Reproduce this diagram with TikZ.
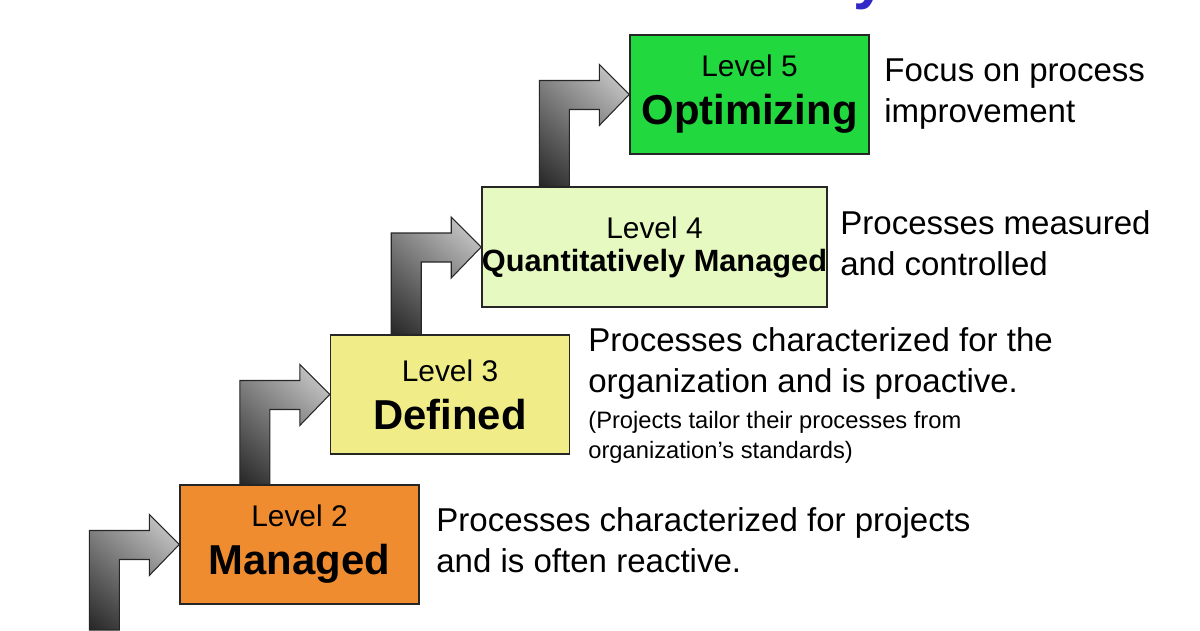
\documentclass[tikz,border=0pt]{standalone}
\usepackage{fontspec}
\setmainfont{Liberation Sans}
\usetikzlibrary{shadings,calc}
\begin{document}
\begin{tikzpicture}[x=0.02cm,y=-0.02cm,
 lvl/.style={draw=black!85,line width=0.8pt,minimum width=239*0.02cm,minimum height=119*0.02cm,inner sep=0pt,align=center},
 desc/.style={anchor=north west,align=left,inner sep=0pt,font=\fontsize{18.8}{23.5}\selectfont},
 small/.style={anchor=north west,align=left,inner sep=0pt,font=\fontsize{13.5}{17}\selectfont}]
\useasboundingbox (0,0) rectangle (1200,630);
\begin{scope}
\clip (0,0) rectangle (1200,630);
\node[anchor=base east,text={rgb,255:red,50;green,40;blue,200},font=\bfseries\fontsize{34}{34}\selectfont,inner sep=0pt] (title) at (887,-3) {Maturity};
\end{scope}
\node[lvl,fill={rgb,255:red,34;green,216;blue,63},minimum width=239*0.02cm] (l5) at (749.5,94.5) {\fontsize{17}{18}\selectfont Level 5\\[9pt]\fontsize{23.8}{26}\selectfont\bfseries Optimizing};
\node[lvl,fill={rgb,255:red,229;green,249;blue,192},minimum width=345*0.02cm,minimum height=120*0.02cm] (l4) at (654.5,247) {\fontsize{17}{18}\selectfont Level 4\\[5pt]\fontsize{17.5}{19}\selectfont\bfseries Quantitatively Managed};
\node[lvl,fill={rgb,255:red,240;green,236;blue,136}] (l3) at (450,394.5) {\fontsize{17}{18}\selectfont Level 3\\[9pt]\fontsize{23.8}{26}\selectfont\bfseries Defined};
\node[lvl,fill={rgb,255:red,240;green,140;blue,48}] (l2) at (299.5,544.5) {\fontsize{17}{18}\selectfont Level 2\\[9pt]\fontsize{23.8}{26}\selectfont\bfseries Managed};
\coordinate (b1) at (105,630);
\foreach \t/\b in {l5/l4,l4/l3,l3/l2,l2/b1}{
 \path (\t.west) coordinate (T);
 \path (\b.north) coordinate (B);
 \shade[draw=black!85,line width=0.6pt,upper right=black!15,lower left=black!85,upper left=black!45,lower right=black!60]
  let \p1=(T), \p2=(B) in
  (\x1-90*0.02cm,\y2) -- (\x1-90*0.02cm,\y1+14*0.02cm) -- (\x1-30*0.02cm,\y1+14*0.02cm) -- (\x1-30*0.02cm,\y1+30*0.02cm)
  -- (\x1,\y1) -- (\x1-30*0.02cm,\y1-31*0.02cm) -- (\x1-30*0.02cm,\y1-15*0.02cm) -- (\x1-60*0.02cm,\y1-15*0.02cm) -- (\x1-60*0.02cm,\y2) -- cycle;
}
\node[desc] (d5) at (884,58) {Focus on process\\improvement};
\node[desc] (d4) at (840,210) {Processes measured\\and controlled};
\node[desc] (d3) at (588,327) {Processes characterized for the\\organization and is proactive.};
\node[small] (d3b) at (588,411) {(Projects tailor their processes from\\organization's standards)};
\node[desc] (d2) at (436,507) {Processes characterized for projects\\and is often reactive.};
\end{tikzpicture}
\end{document}
